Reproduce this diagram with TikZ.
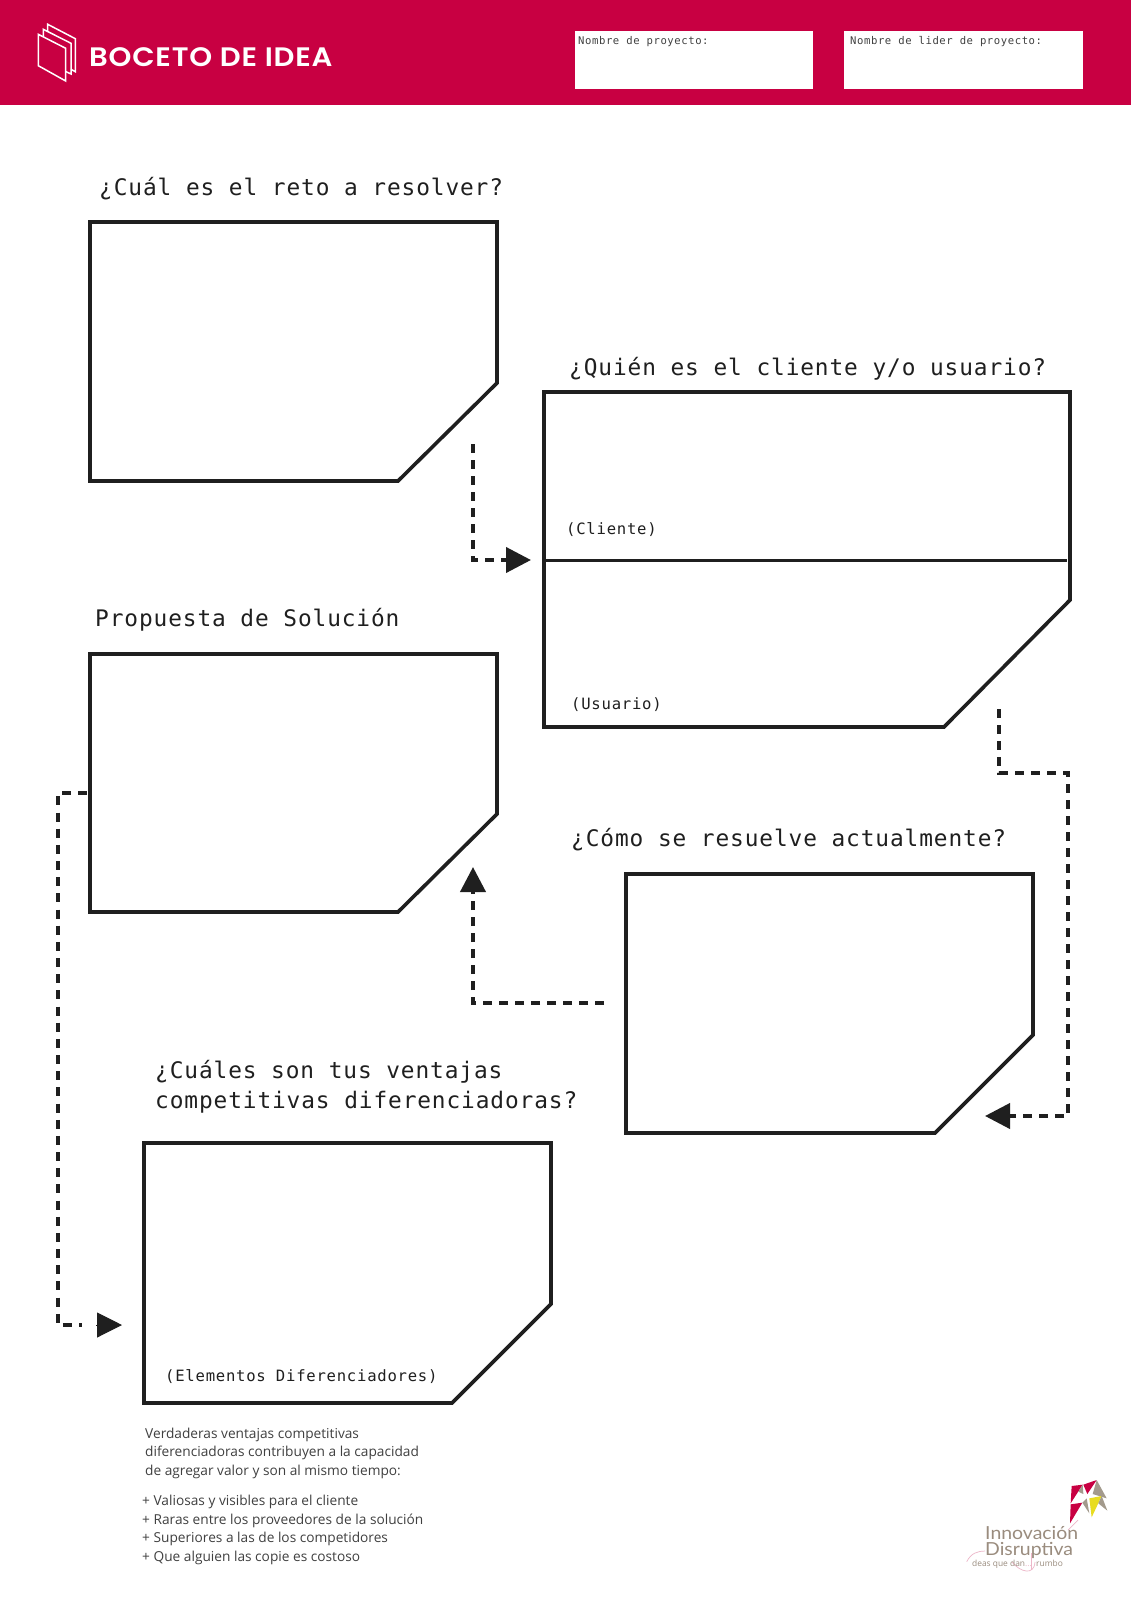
\documentclass[tikz,border=0pt]{standalone}
\usepackage{fontspec}
\usetikzlibrary{arrows.meta}
\setmainfont{Open Sans}
\newfontfamily\monofam[LetterSpace=4.8]{DejaVu Sans Mono}
\newfontfamily\monofield[LetterSpace=5.4]{DejaVu Sans Mono}
\newfontfamily\monobig[LetterSpace=3.9]{DejaVu Sans Mono}
\newfontfamily\headfam[FakeStretch=1.09,LetterSpace=3,BoldFont=* SemiBold,BoldFeatures={FakeStretch=1.09,LetterSpace=3}]{Poppins}
\newfontfamily\logofam[FakeStretch=1.08]{Lato}
\definecolor{hdr}{HTML}{C80042}
\definecolor{ink}{HTML}{1F1F1F}
\definecolor{txt}{HTML}{404040}
\definecolor{logotxt}{HTML}{9A8C7E}
\definecolor{kred}{HTML}{C80042}
\definecolor{kyel}{HTML}{E8DC20}
\definecolor{kgry}{HTML}{A39A8C}
\definecolor{kpink}{HTML}{EDB6C8}
\tikzset{
  card/.style={draw=ink,line width=3.6pt,line join=miter},
  flowline/.style={draw=ink,line width=4pt,dash pattern=on 9pt off 7pt},
  flow/.style={flowline,-{Triangle[length=25pt,width=25pt,fill=ink]}},
  headonly/.style={draw=ink,line width=1pt,-{Triangle[length=25pt,width=25pt,fill=ink]}},
  question/.style={anchor=base west,inner sep=0pt,font=\monobig\fontsize{22.8}{29.5}\selectfont,text=ink,align=left},
  hint/.style={anchor=base west,inner sep=0pt,font=\monofam\fontsize{15.6}{18}\selectfont,text=ink},
  fieldlabel/.style={anchor=base west,inner sep=0pt,font=\monofield\fontsize{10.6}{12}\selectfont,text=txt},
  body/.style={anchor=base west,inner sep=0pt,font=\fontsize{13.7}{18.4}\selectfont,text=txt,align=left},
  logoname/.style={anchor=base west,inner sep=0pt,font=\logofam\fontsize{18}{18}\selectfont,text=logotxt},
  logotag/.style={anchor=base west,inner sep=0pt,font=\fontsize{8.4}{9}\selectfont,text=logotxt},
  field/.style={fill=white,draw=none},
  kitestr/.style={draw=kpink,line width=0.7pt},
}
\begin{document}
\begin{tikzpicture}[x=1pt,y=-1pt]
\useasboundingbox (0,0) rectangle (1131,1600);
\fill[white] (0,0) rectangle (1131,1600);
% header
\fill[hdr] (0,0) rectangle (1131,105.3);
\fill[field] (575,30.7) rectangle (813,88.7);
\fill[field] (844.2,30.7) rectangle (1083,88.7);
\node[fieldlabel] (f1) at (578,44.5) {Nombre de proyecto:};
\node[fieldlabel] (f2) at (850,44.5) {Nombre de lider de proyecto:};
% icon
\begin{scope}[draw=white,line width=1.5pt,line join=miter]
\draw (38.3,34.3) -- (65.7,48.3) -- (65.7,81) -- (38.3,65.7) -- cycle;
\draw (43.3,36.8) -- (43.3,29.3) -- (71,43.3) -- (71,74) -- (65.7,71.5);
\draw (47.7,31.5) -- (47.7,24.3) -- (75.3,38.7) -- (75.3,71.7) -- (71,69.3);
\end{scope}
\node[anchor=base west,inner sep=0pt,font=\headfam\bfseries\fontsize{26.7}{28}\selectfont,text=white] (title) at (89,66.7) {BOCETO DE IDEA};
% boxes
\draw[card] (90,222) -- (497,222) -- (497,383) -- (398,481) -- (90,481) -- cycle;
\draw[card] (544,392) -- (1070,392) -- (1070,600) -- (944,727) -- (544,727) -- cycle;
\draw[card] (544,560.5) -- (1067,560.5);
\draw[card] (90,654) -- (497,654) -- (497,814) -- (398,912) -- (90,912) -- cycle;
\draw[card] (626,874) -- (1033,874) -- (1033,1035) -- (935,1133) -- (626,1133) -- cycle;
\draw[card] (144,1143) -- (551,1143) -- (551,1304) -- (452,1403) -- (144,1403) -- cycle;
% anchors of connectors
\coordinate (a1s) at (473,444);
\coordinate (a1c) at (473,560);
\coordinate (a1e) at (531,560);
\coordinate (a2s) at (999,709);
\coordinate (a2c) at (999,773);
\coordinate (a2d) at (1068,773);
\coordinate (a2f) at (1068,1116);
\coordinate (a2e) at (985,1116);
\coordinate (a3s) at (604,1003);
\coordinate (a3c) at (473,1003);
\coordinate (a3e) at (473,867);
\coordinate (a4s) at (87,793);
\coordinate (a4c) at (58,793);
\coordinate (a4d) at (58,1325);
\coordinate (a4f) at (82,1325);
\coordinate (a4g) at (96,1325);
\coordinate (a4e) at (122,1325);
\draw[flow] (a1s) -- (a1c) -- (a1e);
\draw[flow] (a2s) -- (a2c) -- (a2d) -- (a2f) -- (a2e);
\draw[flow] (a3s) -- (a3c) -- (a3e);
\draw[flowline,dash pattern=on 9pt off 7.17pt] (a4s) -- (a4c) -- (a4d) -- (a4f);
\draw[headonly] (a4g) -- (a4e);
% texts
\node[question] (q1) at (99,195) {¿Cuál es el reto a resolver?};
\node[question] (q2) at (569,375) {¿Quién es el cliente y/o usuario?};
\node[question] (q3) at (95,626) {Propuesta de Solución};
\node[question] (q4) at (571,846) {¿Cómo se resuelve actualmente?};
\node[question] (q5) at (155,1108) {¿Cuáles son tus ventajas\\competitivas diferenciadoras?};
\node[hint] (h1) at (566,534) {(Cliente)};
\node[hint] (h2) at (571,709) {(Usuario)};
\node[hint] (h3) at (165,1381) {(Elementos Diferenciadores)};
\node[body] (b1) at (145,1475) {Verdaderas ventajas competitivas\\diferenciadoras contribuyen a la capacidad\\de agregar valor y son al mismo tiempo:};
\node[body] (b2) at (142,1561) {+ Valiosas y visibles para el cliente\\+ Raras entre los proveedores de la solución\\+ Superiores a las de los competidores\\+ Que alguien las copie es costoso};
% logo kite
\begin{scope}[shift={(1050,1470)},x=0.3333pt,y=-0.3333pt]
\fill[kred] (65,48) -- (98,44) -- (62,100) -- cycle;
\fill[kgry] (98,44) -- (100,72) -- (85,65) -- cycle;
\fill[kred] (100,44) -- (140,30) -- (112,72) -- cycle;
\fill[kgry] (140,30) -- (170,85) -- (128,72) -- cycle;
\fill[kred] (62,103) -- (97,98) -- (60,160) -- cycle;
\fill[kgry] (97,98) -- (110,85) -- (118,130) -- cycle;
\fill[kyel] (118,85) -- (155,78) -- (125,142) -- cycle;
\fill[kgry] (155,78) -- (172,122) -- (145,100) -- cycle;
\end{scope}
\draw[kitestr] (1078,1520) -- (1068,1530);
\draw[kitestr] (966.7,1561.7) .. controls (971,1553) and (978,1551) .. (985,1551);
\draw[kitestr] (1012,1562) .. controls (1020,1572) and (1034,1576) .. (1035,1562);
\draw[kitestr] (1031.5,1553) -- (1031.5,1570);
\node[logoname] (l1) at (985,1539.5) {Innovación};
\node[logoname] (l2) at (985,1555) {Disruptiva};
\node[logotag] (l3) at (972,1566.7) {deas que dan\textcolor{kpink}{...}};
\node[logotag] (l4) at (1036,1566.7) {rumbo};
\end{tikzpicture}
\end{document}
